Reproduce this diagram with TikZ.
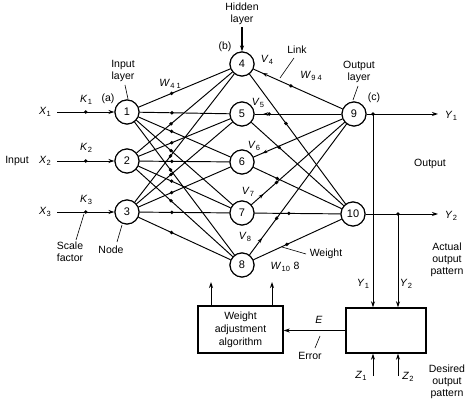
\documentclass[tikz,border=0pt]{standalone}
\usepackage{fontspec}
\setmainfont{Liberation Sans}
\usetikzlibrary{arrows.meta,decorations.markings}
\newcommand\vsub[2]{\textit{#1}\kern.3pt\raisebox{-0.45ex}{\fontsize{7.5}{8}\selectfont #2}}
\begin{document}
\begin{tikzpicture}[x=1pt,y=-1pt,
  neuron/.style={circle,draw,line width=1.1pt,minimum size=24pt,inner sep=0pt,fill=white,font=\fontsize{11}{11}\selectfont},
  link/.style={line width=0.95pt},
  wdot/.style={circle,fill,inner sep=0pt,minimum size=3.8pt},
  lbl/.style={font=\fontsize{10.5}{12}\selectfont,inner sep=0pt,align=center},
  arr/.style={-{Stealth[length=6pt,width=4pt]}},
  leader/.style={line width=0.6pt},
  box/.style={draw,line width=1.4pt,inner sep=2pt,align=center,font=\fontsize{10.5}{13}\selectfont},
  vback/.style={postaction={decorate},decoration={markings,mark=at position #1 with {\arrowreversed{Stealth[length=5pt,width=3.5pt]}}}},
  vfwd/.style={postaction={decorate},decoration={markings,mark=at position #1 with {\arrow{Stealth[length=5pt,width=3.5pt]}}}}
]
\useasboundingbox (0,0) rectangle (474,403);

% neurons
\node[neuron] (n1) at (127,112) {1};
\node[neuron] (n2) at (127,161) {2};
\node[neuron] (n3) at (127,212) {3};
\node[neuron] (n4) at (242,64) {4};
\node[neuron] (n5) at (242,114) {5};
\node[neuron] (n6) at (242,162) {6};
\node[neuron] (n7) at (242,213) {7};
\node[neuron] (n8) at (242,265) {8};
\node[neuron] (n9) at (354,114) {9};
\node[neuron] (n10) at (353,214) {10};

% input -> hidden links
\foreach \i in {1,2,3}
  \foreach \j in {4,...,8}
    \draw[link] (n\i) -- node[wdot,pos=0.36]{} (n\j);

% hidden -> output links
\draw[link,vback=0.1] (n4) -- node[wdot,pos=0.42]{} (n9);
\draw[link,vback=0.1] (n5) -- node[wdot,pos=0.17]{} (n9);
\draw[link,vback=0.1] (n6) -- (n9);
\draw[link,vfwd=0.13] (n7) -- node[wdot,pos=0.27]{} (n9);
\draw[link,vfwd=0.13] (n8) -- node[wdot,pos=0.28]{} (n9);
\draw[link] (n4) -- node[wdot,pos=0.38]{} (n10);
\draw[link] (n5) -- node[wdot,pos=0.3]{} (n10);
\draw[link] (n6) -- node[wdot,pos=0.27]{} (n10);
\draw[link] (n7) -- node[wdot,pos=0.4]{} (n10);
\draw[link] (n8) -- node[wdot,pos=0.38]{} (n10);

% redraw neurons on top
\foreach \n in {1,...,10} \node[neuron] at (n\n) {\n};

% inputs
\coordinate (x1s) at (57,112);
\coordinate (x2s) at (57,161);
\coordinate (x3s) at (57,212);
\node[lbl] (x1) at (45,112) {\vsub{X}{1}};
\node[lbl] (x2) at (45,161) {\vsub{X}{2}};
\node[lbl] (x3) at (45,212) {\vsub{X}{3}};
\node[lbl] (inp) at (17,161) {Input};
\draw[link,arr] (x1s) -- node[wdot,pos=0.5]{} (n1);
\draw[link,arr] (x2s) -- node[wdot,pos=0.5]{} (n2);
\draw[link,arr] (x3s) -- node[wdot,pos=0.5]{} (n3);
\node[lbl] (k1) at (86,100) {\vsub{K}{1}};
\node[lbl] (k2) at (86,148) {\vsub{K}{2}};
\node[lbl] (k3) at (86,200) {\vsub{K}{3}};
\node[lbl] (a) at (108,99) {(a)};
\node[lbl] (il) at (123,71) {Input\\layer};
\coordinate (il1) at (125,85);
\coordinate (il2) at (128,99);
\draw[leader] (il1) -- (il2);
\node[lbl] (sf) at (70,252) {Scale\\factor};
\coordinate (sf1) at (84,214);
\coordinate (sf2) at (76,240);
\draw[leader] (sf1) -- (sf2);
\node[lbl] (nd) at (111,250) {Node};
\coordinate (nd1) at (122,225);
\coordinate (nd2) at (117,242);
\draw[leader] (nd1) -- (nd2);
\node[lbl] (w41) at (170,84) {\vsub{W}{4 1}};

% hidden layer
\node[lbl] (hl) at (242,14) {Hidden\\layer};
\coordinate (hla) at (242,27);
\draw[line width=1.4pt,arr] (hla) -- (n4);
\node[lbl] (b) at (225,47) {(b)};
\node[lbl] (lk) at (297,50) {Link};
\coordinate (lk1) at (294,58);
\coordinate (lk2) at (280,78);
\draw[leader] (lk1) -- (lk2);
\node[lbl] (v4) at (267,60) {\vsub{V}{4}};
\node[lbl] (w94) at (311,76) {\vsub{W}{9 4}};
\node[lbl] (v5) at (258,103) {\vsub{V}{5}};
\node[lbl] (v6) at (254,146) {\vsub{V}{6}};
\node[lbl] (v7) at (248,192) {\vsub{V}{7}};
\node[lbl] (v8) at (245,237) {\vsub{V}{8}};
\node[lbl] (wt) at (326,254) {Weight};
\coordinate (wt1) at (282,247);
\coordinate (wt2) at (306,254);
\draw[leader] (wt1) -- (wt2);
\node[lbl] (w108) at (285,267) {\vsub{W}{10}\,\,8};

% output layer
\node[lbl] (ol) at (359,72) {Output\\layer};
\coordinate (ol1) at (358,86);
\coordinate (ol2) at (353,100);
\draw[leader] (ol1) -- (ol2);
\node[lbl] (c) at (374,98) {(c)};
\coordinate (y1t) at (438,114);
\coordinate (y2t) at (438,214);
\draw[link,arr] (n9) -- (y1t);
\draw[link,arr] (n10) -- (y2t);
\node[lbl] (y1) at (451,116) {\vsub{Y}{1}};
\node[lbl] (y2) at (451,216) {\vsub{Y}{2}};
\node[lbl] (out) at (430,164) {Output};
\node[lbl] (aop) at (447,260) {Actual\\output\\pattern};
\coordinate (j1) at (373,114);
\coordinate (j2) at (398,214);
\fill (j1) circle (1.9pt);
\fill (j2) circle (1.9pt);

% boxes
\node[box,minimum width=85pt,minimum height=47pt] (wb) at (240.5,329.5) {Weight\\adjustment\\algorithm};
\node[box,minimum width=80pt,minimum height=45pt] (rb) at (386,330.5) {};
\draw[link,arr] (j1) -- (j1 |- rb.north);
\draw[link,arr] (j2) -- (j2 |- rb.north);
\node[lbl] (ly1) at (363,284) {\vsub{Y}{1}};
\node[lbl] (ly2) at (406,284) {\vsub{Y}{2}};
\coordinate (et) at (wb.east |- rb.west);
\draw[link,arr] (rb.west) -- (et);
\node[lbl] (e) at (319,320) {\textit{E}};
\node[lbl] (err) at (310,356) {Error};
\coordinate (er1) at (320,336);
\coordinate (er2) at (315,348);
\draw[leader] (er1) -- (er2);
\coordinate (u1) at (211,282);
\coordinate (u2) at (272,282);
\draw[link,arr] (u1 |- wb.north) -- (u1);
\draw[link,arr] (u2 |- wb.north) -- (u2);
\coordinate (z1s) at (373,376);
\coordinate (z2s) at (398,376);
\draw[link,arr] (z1s) -- (z1s |- rb.south);
\draw[link,arr] (z2s) -- (z2s |- rb.south);
\node[lbl] (z1) at (361,376) {\vsub{Z}{1}};
\node[lbl] (z2) at (408,377) {\vsub{Z}{2}};
\node[lbl] (dop) at (447,382) {Desired\\output\\pattern};
\end{tikzpicture}
\end{document}
